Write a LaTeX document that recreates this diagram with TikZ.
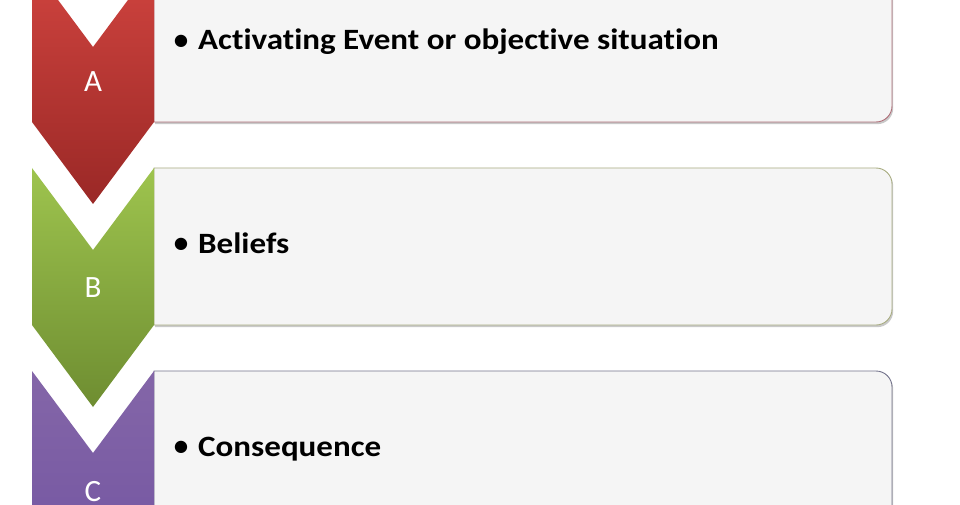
\documentclass[tikz,border=0pt]{standalone}
\usepackage{tikz}
\usepackage{xcolor}
\usepackage{fontspec}
\setmainfont{Carlito}
\newfontfamily\itemfont{Carlito}[FakeStretch=1.12, Ligatures=NoCommon]
\usetikzlibrary{shadows}

\definecolor{redtop}{HTML}{D0443F}
\definecolor{redbot}{HTML}{9A2826}
\definecolor{greentop}{HTML}{9EC44E}
\definecolor{greenbot}{HTML}{6E8D31}
\definecolor{purptop}{HTML}{8466A8}
\definecolor{purpbot}{HTML}{7052A0}
\definecolor{boxfill}{HTML}{F5F5F5}
\definecolor{redline}{HTML}{B0707A}
\definecolor{greenline}{HTML}{A9AD82}
\definecolor{purpline}{HTML}{74748C}

\tikzset{
    panel/.style={fill=boxfill, line width=0.9pt,
        drop shadow={shadow xshift=1.2pt, shadow yshift=-2.2pt, opacity=0.35, fill=black!60}},
    letter/.style={anchor=base, inner sep=0pt, text=white, font=\fontsize{31}{32}\selectfont},
    item/.style={anchor=base west, inner sep=0pt, font=\itemfont\fontsize{29.5}{30}\selectfont\bfseries},
    dot/.style={inner sep=0pt, font=\fontsize{29}{30}\selectfont\bfseries}
}

\begin{document}
\begin{tikzpicture}[x=1pt,y=1pt]
            \useasboundingbox (0,0) rectangle (960,504);
            \fill [white] (0,0) rectangle (960,504);
            \clip (0,0) rectangle (960,504);
            % boxes
            \draw [panel, draw=redline] (154,539)--(876,539) arc[start angle=90,end angle=0,radius=16]--(892,398) arc[start angle=0,end angle=-90,radius=16]--(154,382)--cycle;
            \draw [panel, draw=greenline] (154,336)--(876,336) arc[start angle=90,end angle=0,radius=16]--(892,195) arc[start angle=0,end angle=-90,radius=16]--(154,179)--cycle;
            \draw [panel, draw=purpline] (154,133)--(876,133) arc[start angle=90,end angle=0,radius=16]--(892,-8) arc[start angle=0,end angle=-90,radius=16]--(154,-24)--cycle;
            % chevrons
            \shade [top color=redtop, bottom color=redbot] (32,539)--(93,457)--(154,539)--(154,382)--(93,300)--(32,382)--cycle;
            \shade [top color=greentop, bottom color=greenbot] (32,336)--(93,254)--(154,336)--(154,179)--(93,97)--(32,179)--cycle;
            \shade [top color=purptop, bottom color=purpbot] (32,133)--(93,51)--(154,133)--(154,-24)--(93,-106)--(32,-24)--cycle;
            % letters
            \node [letter] (labA) at (93,412){A};
            \node [letter] (labB) at (93,207){B};
            \node [letter] (labC) at (93,3){C};
            % items
            \node [dot] (dotA) at (181,462){\textbullet};
            \node [dot] (dotB) at (181,259){\textbullet};
            \node [dot] (dotC) at (181,56){\textbullet};
            \node [item] (itemA) at (198,454){Activating Event or objective situation};
            \node [item] (itemB) at (198,251){Beliefs};
            \node [item] (itemC) at (198,48){Consequence};
        \end{tikzpicture}
\end{document}
